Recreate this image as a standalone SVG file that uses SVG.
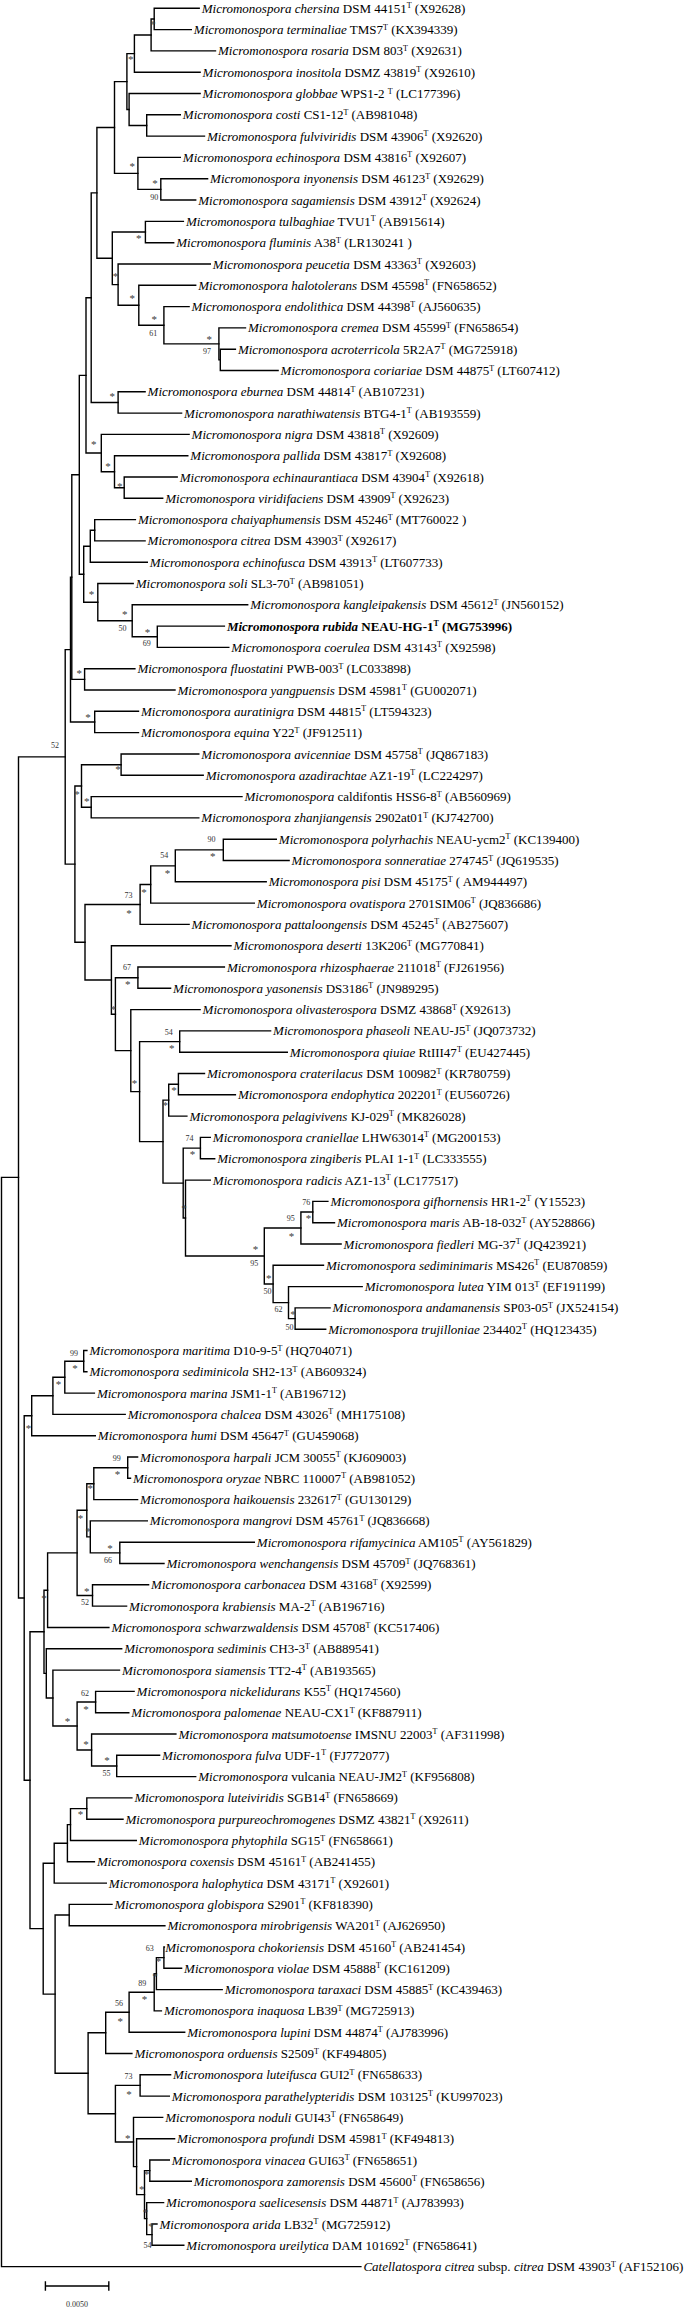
<svg xmlns="http://www.w3.org/2000/svg" width="685" height="2310" viewBox="0 0 685 2310">
<style>
text{font-family:"Liberation Serif","Times New Roman",serif;font-size:13px;fill:#000}
.i{font-style:italic}
.t{font-size:8px}
.a{font-size:11px;fill:#3a3a3a;text-anchor:middle}
.b{font-size:8px;fill:#333;text-anchor:middle}
.bold{font-weight:bold}
#connectors path{fill:none;stroke:#000;stroke-width:1.4;stroke-linecap:square}
</style>
<rect width="685" height="2310" fill="#fff"/>
<g id="connectors">
<path d="M154.2 8.3V29.6M154.2 8.3H199.2M154.2 29.6H191.3"/>
<path d="M151.1 19V50.9M151.1 19H154.2M151.1 50.9H215.5"/>
<path d="M134.4 35V72.2M134.4 35H151.1M134.4 72.2H200.1"/>
<path d="M146.7 114.8V136.1M146.7 114.8H180.3M146.7 136.1H204.5"/>
<path d="M129.1 93.5V125.5M129.1 93.5H200.1M129.1 125.5H146.7"/>
<path d="M126.9 53.6V109.5M126.9 53.6H134.4M126.9 109.5H129.1"/>
<path d="M160.8 178.7V200M160.8 178.7H207.6M160.8 200H195.7"/>
<path d="M137.9 157.4V189.4M137.9 157.4H180.3M137.9 189.4H160.8"/>
<path d="M114.5 81.6V173.4M114.5 81.6H126.9M114.5 173.4H137.9"/>
<path d="M145.4 221.4V242.7M145.4 221.4H183.4M145.4 242.7H173.7"/>
<path d="M220.3 349.2V370.5M220.3 349.2H235.4M220.3 370.5H278.1"/>
<path d="M218.9 327.9V359.9M218.9 327.9H245.5M218.9 359.9H220.3"/>
<path d="M163.9 306.6V343.9M163.9 306.6H189.1M163.9 343.9H218.9"/>
<path d="M138.8 285.3V325.2M138.8 285.3H195.7M138.8 325.2H163.9"/>
<path d="M118.1 264V305.3M118.1 264H210.3M118.1 305.3H138.8"/>
<path d="M112.3 232V284.6M112.3 232H145.4M112.3 284.6H118.1"/>
<path d="M96.9 127.5V258.3M96.9 127.5H114.5M96.9 258.3H112.3"/>
<path d="M118.1 391.8V413.1M118.1 391.8H145.1M118.1 413.1H181.6"/>
<path d="M91.2 192.9V402.5M91.2 192.9H96.9M91.2 402.5H118.1"/>
<path d="M124.2 477V498.3M124.2 477H177.2M124.2 498.3H162.7"/>
<path d="M114.5 455.7V487.7M114.5 455.7H187.8M114.5 487.7H124.2"/>
<path d="M101.3 434.4V471.7M101.3 434.4H189.1M101.3 471.7H114.5"/>
<path d="M86 297.7V453M86 297.7H91.2M86 453H101.3"/>
<path d="M94.7 519.6V540.9M94.7 519.6H135.4M94.7 540.9H145.1"/>
<path d="M90.3 530.3V562.2M90.3 530.3H94.7M90.3 562.2H147.3"/>
<path d="M157.3 626.1V647.4M157.3 626.1H224.4M157.3 647.4H228.8"/>
<path d="M132.2 604.8V636.8M132.2 604.8H247.7M132.2 636.8H157.3"/>
<path d="M97.8 583.5V620.8M97.8 583.5H133.2M97.8 620.8H132.2"/>
<path d="M83.7 546.2V602.2M83.7 546.2H90.3M83.7 602.2H97.8"/>
<path d="M79.3 375.4V574.2M79.3 375.4H86M79.3 574.2H83.7"/>
<path d="M84.6 668.7V690M84.6 668.7H134.9M84.6 690H175"/>
<path d="M94.7 711.3V732.6M94.7 711.3H138.5M94.7 732.6H138.5"/>
<path d="M71.8 474.8V679.4M71.8 474.8H79.3M71.8 679.4H84.6"/>
<path d="M70.5 577.1V722M70.5 577.1H71.8M70.5 722H94.7"/>
<path d="M121.1 754V775.3M121.1 754H198.8M121.1 775.3H203.2"/>
<path d="M91.2 796.6V817.9M91.2 796.6H242M91.2 817.9H198.8"/>
<path d="M81.5 764.7V807.3M81.5 764.7H121.1M81.5 807.3H91.2"/>
<path d="M223.3 839.2V860.5M223.3 839.2H276.3M223.3 860.5H289.1"/>
<path d="M175.3 849.9V881.8M175.3 849.9H223.3M175.3 881.8H266.2"/>
<path d="M150.7 865.9V903.1M150.7 865.9H175.3M150.7 903.1H254.3"/>
<path d="M140.1 884.5V924.4M140.1 884.5H150.7M140.1 924.4H189.1"/>
<path d="M137.9 967V988.3M137.9 967H224.4M137.9 988.3H170.6"/>
<path d="M179.7 1030.9V1052.2M179.7 1030.9H270.6M179.7 1052.2H287.3"/>
<path d="M178.4 1073.5V1094.8M178.4 1073.5H204.5M178.4 1094.8H235.4"/>
<path d="M168.7 1084.2V1116.1M168.7 1084.2H178.4M168.7 1116.1H186.9"/>
<path d="M200.4 1137.4V1158.8M200.4 1137.4H210.3M200.4 1158.8H214.7"/>
<path d="M312.8 1201.4V1222.7M312.8 1201.4H327.9M312.8 1222.7H334.5"/>
<path d="M300.9 1212V1244M300.9 1212H312.8M300.9 1244H341.1"/>
<path d="M295.1 1307.9V1329.2M295.1 1307.9H330.1M295.1 1329.2H325.7"/>
<path d="M288.5 1286.6V1318.6M288.5 1286.6H362.2M288.5 1318.6H295.1"/>
<path d="M273.1 1265.3V1302.6M273.1 1265.3H323.5M273.1 1302.6H288.5"/>
<path d="M264.3 1228V1284M264.3 1228H300.9M264.3 1284H273.1"/>
<path d="M185.5 1180.1V1256M185.5 1180.1H210.3M185.5 1256H264.3"/>
<path d="M183.2 1148.1V1218M183.2 1148.1H200.4M183.2 1218H185.5"/>
<path d="M163 1100.1V1183.1M163 1100.1H168.7M163 1183.1H183.2"/>
<path d="M139.6 1041.6V1141.6M139.6 1041.6H179.7M139.6 1141.6H163"/>
<path d="M130.8 1009.6V1091.6M130.8 1009.6H200.1M130.8 1091.6H139.6"/>
<path d="M115.4 977.7V1050.6M115.4 977.7H137.9M115.4 1050.6H130.8"/>
<path d="M111.4 945.7V1014.2M111.4 945.7H231M111.4 1014.2H115.4"/>
<path d="M85 904.5V980M85 904.5H140.1M85 980H111.4"/>
<path d="M74.9 786V942.2M74.9 786H81.5M74.9 942.2H85"/>
<path d="M65.2 649.6V864.1M65.2 649.6H70.5M65.2 864.1H74.9"/>
<path d="M83.7 1350.5V1371.8M83.7 1350.5H86.9M83.7 1371.8H86.9"/>
<path d="M64.8 1361.2V1393.1M64.8 1361.2H83.7M64.8 1393.1H94.4"/>
<path d="M52.9 1377.2V1414.4M52.9 1377.2H64.8M52.9 1414.4H125.2"/>
<path d="M31.7 1395.8V1435.7M31.7 1395.8H52.9M31.7 1435.7H95.3"/>
<path d="M127.7 1457V1478.3M127.7 1457H137.6M127.7 1478.3H130.5"/>
<path d="M93.8 1467.7V1499.6M93.8 1467.7H127.7M93.8 1499.6H137.6"/>
<path d="M119.8 1542.2V1563.5M119.8 1542.2H254.3M119.8 1563.5H164"/>
<path d="M90.3 1520.9V1552.9M90.3 1520.9H147.3M90.3 1552.9H119.8"/>
<path d="M86.8 1483.7V1536.9M86.8 1483.7H93.8M86.8 1536.9H90.3"/>
<path d="M92.5 1584.8V1606.1M92.5 1584.8H148.6M92.5 1606.1H126.6"/>
<path d="M77.1 1510.3V1595.5M77.1 1510.3H86.8M77.1 1595.5H92.5"/>
<path d="M47.6 1552.9V1627.5M47.6 1552.9H77.1M47.6 1627.5H108.9"/>
<path d="M95.6 1691.4V1712.7M95.6 1691.4H134.1M95.6 1712.7H128.8"/>
<path d="M116.7 1755.3V1776.6M116.7 1755.3H159.6M116.7 1776.6H195.7"/>
<path d="M91.6 1734V1766M91.6 1734H175.9M91.6 1766H116.7"/>
<path d="M77.1 1702V1750M77.1 1702H95.6M77.1 1750H91.6"/>
<path d="M52.9 1670.1V1726M52.9 1670.1H119.5M52.9 1726H77.1"/>
<path d="M46.3 1648.8V1698M46.3 1648.8H121.7M46.3 1698H52.9"/>
<path d="M44 1590.2V1673.4M44 1590.2H47.6M44 1673.4H46.3"/>
<path d="M86.8 1797.9V1819.2M86.8 1797.9H131.9M86.8 1819.2H123"/>
<path d="M70.5 1808.6V1840.5M70.5 1808.6H86.8M70.5 1840.5H136.3"/>
<path d="M67.4 1824.6V1861.8M67.4 1824.6H70.5M67.4 1861.8H94.4"/>
<path d="M54.2 1843.2V1883.1M54.2 1843.2H67.4M54.2 1883.1H106.3"/>
<path d="M69.2 1904.4V1925.7M69.2 1904.4H112M69.2 1925.7H164.9"/>
<path d="M163.9 1947V1968.3M163.9 1947H164.4M163.9 1968.3H181.6"/>
<path d="M156.4 1957.6V1989.6M156.4 1957.6H163.9M156.4 1989.6H222.2"/>
<path d="M154.2 1973.6V2010.9M154.2 1973.6H156.4M154.2 2010.9H161.4"/>
<path d="M129.1 1992.2V2032.2M129.1 1992.2H154.2M129.1 2032.2H184.7"/>
<path d="M105.7 2012.2V2053.5M105.7 2012.2H129.1M105.7 2053.5H131.9"/>
<path d="M140.1 2074.8V2096.1M140.1 2074.8H170.6M140.1 2096.1H169.3"/>
<path d="M149.8 2160V2181.3M149.8 2160H169.3M149.8 2181.3H191.3"/>
<path d="M152 2224V2245.3M152 2224H157M152 2245.3H183.8"/>
<path d="M146.7 2202.6V2234.6M146.7 2202.6H163.6M146.7 2234.6H152"/>
<path d="M144.5 2170.6V2218.6M144.5 2170.6H149.8M144.5 2218.6H146.7"/>
<path d="M136.6 2138.7V2194.6M136.6 2138.7H174.6M136.6 2194.6H144.5"/>
<path d="M133.5 2117.4V2166.6M133.5 2117.4H162.7M133.5 2166.6H136.6"/>
<path d="M115.4 2085.4V2142M115.4 2085.4H140.1M115.4 2142H133.5"/>
<path d="M88.1 2032.8V2113.7M88.1 2032.8H105.7M88.1 2113.7H115.4"/>
<path d="M55.1 1915V2073.2M55.1 1915H69.2M55.1 2073.2H88.1"/>
<path d="M43.2 1863.2V1994.1M43.2 1863.2H54.2M43.2 1994.1H55.1"/>
<path d="M30 1631.8V1928.6M30 1631.8H44M30 1928.6H43.2"/>
<path d="M24.2 1415.8V1780.2M24.2 1415.8H31.7M24.2 1780.2H30"/>
<path d="M18.5 756.9V1598M18.5 756.9H65.2M18.5 1598H24.2"/>
<path d="M1.5 1177.4V2266.6M1.5 1177.4H18.5M1.5 2266.6H360.9"/>
<path d="M45.4 2286H108.8M45.4 2282V2290M108.8 2282V2290"/>
</g>
<g id="support">
<text class="a" x="152.9" y="28.3">*</text><text class="a" x="130.8" y="63.3">*</text><text class="a" x="132.2" y="170">*</text><text class="a" x="155" y="186.7">*</text>
<text class="a" x="138.8" y="241.7">*</text><text class="a" x="115.4" y="280">*</text><text class="a" x="132.2" y="301.7">*</text><text class="a" x="154.2" y="323.3">*</text><text class="a" x="209.2" y="343.3">*</text>
<text class="a" x="112.3" y="400">*</text><text class="a" x="93.8" y="448.3">*</text><text class="a" x="107.9" y="470">*</text><text class="a" x="119.8" y="490">*</text>
<text class="a" x="91.6" y="598.3">*</text><text class="a" x="124.7" y="617.7">*</text><text class="a" x="147.6" y="635.7">*</text><text class="a" x="79.3" y="676.7">*</text><text class="a" x="88.1" y="721">*</text>
<text class="a" x="118.1" y="773.3">*</text><text class="a" x="77.1" y="798.3">*</text><text class="a" x="86.8" y="805">*</text><text class="a" x="212.8" y="860">*</text><text class="a" x="167.4" y="876.7">*</text><text class="a" x="144" y="895.7">*</text><text class="a" x="129.1" y="916.7">*</text>
<text class="a" x="127.7" y="988.3">*</text><text class="a" x="113.6" y="1013.3">*</text><text class="a" x="171.8" y="1051.7">*</text><text class="a" x="134.4" y="1086.7">*</text><text class="a" x="174" y="1094">*</text><text class="a" x="165.2" y="1109.3">*</text>
<text class="a" x="192.5" y="1158.3">*</text><text class="a" x="184.1" y="1211.7">*</text><text class="a" x="308.4" y="1222.3">*</text><text class="a" x="291.6" y="1240">*</text><text class="a" x="255.5" y="1253.3">*</text><text class="a" x="268.7" y="1281.7">*</text><text class="a" x="293" y="1318.3">*</text>
<text class="a" x="74.9" y="1371.7">*</text><text class="a" x="58.6" y="1388.3">*</text><text class="a" x="28.6" y="1431.7">*</text><text class="a" x="117.6" y="1478.3">*</text><text class="a" x="90.3" y="1491.7">*</text><text class="a" x="80.6" y="1521.7">*</text>
<text class="a" x="88.1" y="1535">*</text><text class="a" x="110.1" y="1551.7">*</text><text class="a" x="86.8" y="1595">*</text><text class="a" x="44" y="1602.3">*</text><text class="a" x="85.9" y="1713.3">*</text>
<text class="a" x="67.4" y="1725">*</text><text class="a" x="85.9" y="1748.3">*</text><text class="a" x="107" y="1764.3">*</text><text class="a" x="80.6" y="1818.3">*</text>
<text class="a" x="158.6" y="1965">*</text><text class="a" x="155" y="1980">*</text><text class="a" x="144.5" y="2003.3">*</text><text class="a" x="120.3" y="2025">*</text>
<text class="a" x="129.1" y="2098.3">*</text><text class="a" x="127.7" y="2141.7">*</text><text class="a" x="146.7" y="2178.3">*</text><text class="a" x="141.8" y="2193.3">*</text><text class="a" x="145.4" y="2215.7">*</text><text class="a" x="151.1" y="2230">*</text>
<text class="b" x="154.2" y="199.7">90</text><text class="b" x="153.3" y="335.7">61</text><text class="b" x="207" y="354">97</text><text class="b" x="122.5" y="631.3">50</text><text class="b" x="146.7" y="646.3">69</text><text class="b" x="55.1" y="748">52</text>
<text class="b" x="211.4" y="842.3">90</text><text class="b" x="164.3" y="858">54</text><text class="b" x="128.6" y="898">73</text><text class="b" x="126.9" y="969.7">67</text><text class="b" x="168.7" y="1034.7">54</text><text class="b" x="189.4" y="1140.7">74</text>
<text class="b" x="306.2" y="1204.7">76</text><text class="b" x="290.7" y="1220.7">95</text><text class="b" x="254.2" y="1265.7">95</text><text class="b" x="267.4" y="1293.7">50</text><text class="b" x="278.4" y="1312.3">62</text><text class="b" x="289.4" y="1329.7">50</text>
<text class="b" x="74" y="1355.7">99</text><text class="b" x="116.7" y="1461.3">99</text><text class="b" x="107.9" y="1563">66</text><text class="b" x="85" y="1604.7">52</text><text class="b" x="85" y="1695.7">62</text><text class="b" x="106.6" y="1776.3">55</text>
<text class="b" x="149.8" y="1950.7">63</text><text class="b" x="142.3" y="1985.7">89</text><text class="b" x="118.9" y="2005.7">56</text><text class="b" x="128.6" y="2078.7">73</text><text class="b" x="147.6" y="2248">54</text>
<text class="b" x="77" y="2307">0.0050</text>
</g>
<g id="n1"><text x="201.7" y="12.8"><tspan class="i">Micromonospora chersina</tspan> DSM 44151<tspan class="t" dy="-4.5">T</tspan><tspan dy="4.5"> (X92628)</tspan></text></g>
<g id="n2"><text x="193.8" y="34.1"><tspan class="i">Micromonospora terminaliae</tspan> TMS7<tspan class="t" dy="-4.5">T</tspan><tspan dy="4.5"> (KX394339)</tspan></text></g>
<g id="n3"><text x="218" y="55.4"><tspan class="i">Micromonospora rosaria</tspan> DSM 803<tspan class="t" dy="-4.5">T</tspan><tspan dy="4.5"> (X92631)</tspan></text></g>
<g id="n4"><text x="202.6" y="76.7"><tspan class="i">Micromonospora inositola</tspan> DSMZ 43819<tspan class="t" dy="-4.5">T</tspan><tspan dy="4.5"> (X92610)</tspan></text></g>
<g id="n5"><text x="202.6" y="98"><tspan class="i">Micromonospora globbae</tspan> WPS1-2 <tspan class="t" dy="-4.5">T</tspan><tspan dy="4.5"> (LC177396)</tspan></text></g>
<g id="n6"><text x="182.8" y="119.3"><tspan class="i">Micromonospora costi</tspan> CS1-12<tspan class="t" dy="-4.5">T</tspan><tspan dy="4.5"> (AB981048)</tspan></text></g>
<g id="n7"><text x="207" y="140.6"><tspan class="i">Micromonospora fulviviridis</tspan> DSM 43906<tspan class="t" dy="-4.5">T</tspan><tspan dy="4.5"> (X92620)</tspan></text></g>
<g id="n8"><text x="182.8" y="161.9"><tspan class="i">Micromonospora echinospora</tspan> DSM 43816<tspan class="t" dy="-4.5">T</tspan><tspan dy="4.5"> (X92607)</tspan></text></g>
<g id="n9"><text x="210.1" y="183.2"><tspan class="i">Micromonospora inyonensis</tspan> DSM 46123<tspan class="t" dy="-4.5">T</tspan><tspan dy="4.5"> (X92629)</tspan></text></g>
<g id="n10"><text x="198.2" y="204.5"><tspan class="i">Micromonospora sagamiensis</tspan> DSM 43912<tspan class="t" dy="-4.5">T</tspan><tspan dy="4.5"> (X92624)</tspan></text></g>
<g id="n11"><text x="185.9" y="225.9"><tspan class="i">Micromonospora tulbaghiae</tspan> TVU1<tspan class="t" dy="-4.5">T</tspan><tspan dy="4.5"> (AB915614)</tspan></text></g>
<g id="n12"><text x="176.2" y="247.2"><tspan class="i">Micromonospora fluminis</tspan> A38<tspan class="t" dy="-4.5">T</tspan><tspan dy="4.5"> (LR130241 )</tspan></text></g>
<g id="n13"><text x="212.8" y="268.5"><tspan class="i">Micromonospora peucetia</tspan> DSM 43363<tspan class="t" dy="-4.5">T</tspan><tspan dy="4.5"> (X92603)</tspan></text></g>
<g id="n14"><text x="198.2" y="289.8"><tspan class="i">Micromonospora halotolerans</tspan> DSM 45598<tspan class="t" dy="-4.5">T</tspan><tspan dy="4.5"> (FN658652)</tspan></text></g>
<g id="n15"><text x="191.6" y="311.1"><tspan class="i">Micromonospora endolithica</tspan> DSM 44398<tspan class="t" dy="-4.5">T</tspan><tspan dy="4.5"> (AJ560635)</tspan></text></g>
<g id="n16"><text x="248" y="332.4"><tspan class="i">Micromonospora cremea</tspan> DSM 45599<tspan class="t" dy="-4.5">T</tspan><tspan dy="4.5"> (FN658654)</tspan></text></g>
<g id="n17"><text x="237.9" y="353.7"><tspan class="i">Micromonospora acroterricola</tspan> 5R2A7<tspan class="t" dy="-4.5">T</tspan><tspan dy="4.5"> (MG725918)</tspan></text></g>
<g id="n18"><text x="280.6" y="375"><tspan class="i">Micromonospora coriariae</tspan> DSM 44875<tspan class="t" dy="-4.5">T</tspan><tspan dy="4.5"> (LT607412)</tspan></text></g>
<g id="n19"><text x="147.6" y="396.3"><tspan class="i">Micromonospora eburnea</tspan> DSM 44814<tspan class="t" dy="-4.5">T</tspan><tspan dy="4.5"> (AB107231)</tspan></text></g>
<g id="n20"><text x="184.1" y="417.6"><tspan class="i">Micromonospora narathiwatensis</tspan> BTG4-1<tspan class="t" dy="-4.5">T</tspan><tspan dy="4.5"> (AB193559)</tspan></text></g>
<g id="n21"><text x="191.6" y="438.9"><tspan class="i">Micromonospora nigra</tspan> DSM 43818<tspan class="t" dy="-4.5">T</tspan><tspan dy="4.5"> (X92609)</tspan></text></g>
<g id="n22"><text x="190.3" y="460.2"><tspan class="i">Micromonospora pallida</tspan> DSM 43817<tspan class="t" dy="-4.5">T</tspan><tspan dy="4.5"> (X92608)</tspan></text></g>
<g id="n23"><text x="179.7" y="481.5"><tspan class="i">Micromonospora echinaurantiaca</tspan> DSM 43904<tspan class="t" dy="-4.5">T</tspan><tspan dy="4.5"> (X92618)</tspan></text></g>
<g id="n24"><text x="165.2" y="502.8"><tspan class="i">Micromonospora viridifaciens</tspan> DSM 43909<tspan class="t" dy="-4.5">T</tspan><tspan dy="4.5"> (X92623)</tspan></text></g>
<g id="n25"><text x="137.9" y="524.1"><tspan class="i">Micromonospora chaiyaphumensis</tspan> DSM 45246<tspan class="t" dy="-4.5">T</tspan><tspan dy="4.5"> (MT760022 )</tspan></text></g>
<g id="n26"><text x="147.6" y="545.4"><tspan class="i">Micromonospora citrea</tspan> DSM 43903<tspan class="t" dy="-4.5">T</tspan><tspan dy="4.5"> (X92617)</tspan></text></g>
<g id="n27"><text x="149.8" y="566.7"><tspan class="i">Micromonospora echinofusca</tspan> DSM 43913<tspan class="t" dy="-4.5">T</tspan><tspan dy="4.5"> (LT607733)</tspan></text></g>
<g id="n28"><text x="135.7" y="588"><tspan class="i">Micromonospora soli</tspan> SL3-70<tspan class="t" dy="-4.5">T</tspan><tspan dy="4.5"> (AB981051)</tspan></text></g>
<g id="n29"><text x="250.2" y="609.3"><tspan class="i">Micromonospora kangleipakensis</tspan> DSM 45612<tspan class="t" dy="-4.5">T</tspan><tspan dy="4.5"> (JN560152)</tspan></text></g>
<g id="n30"><text class="bold" x="226.9" y="630.6"><tspan class="i">Micromonospora rubida</tspan>  NEAU-HG-1<tspan class="t" dy="-4.5">T</tspan><tspan dy="4.5"> (MG753996)</tspan></text></g>
<g id="n31"><text x="231.3" y="651.9"><tspan class="i">Micromonospora coerulea</tspan> DSM 43143<tspan class="t" dy="-4.5">T</tspan><tspan dy="4.5"> (X92598)</tspan></text></g>
<g id="n32"><text x="137.4" y="673.2"><tspan class="i">Micromonospora fluostatini</tspan> PWB-003<tspan class="t" dy="-4.5">T</tspan><tspan dy="4.5"> (LC033898)</tspan></text></g>
<g id="n33"><text x="177.5" y="694.5"><tspan class="i">Micromonospora yangpuensis</tspan> DSM 45981<tspan class="t" dy="-4.5">T</tspan><tspan dy="4.5"> (GU002071)</tspan></text></g>
<g id="n34"><text x="141" y="715.8"><tspan class="i">Micromonospora auratinigra</tspan> DSM 44815<tspan class="t" dy="-4.5">T</tspan><tspan dy="4.5"> (LT594323)</tspan></text></g>
<g id="n35"><text x="141" y="737.1"><tspan class="i">Micromonospora equina</tspan> Y22<tspan class="t" dy="-4.5">T</tspan><tspan dy="4.5"> (JF912511)</tspan></text></g>
<g id="n36"><text x="201.3" y="758.5"><tspan class="i">Micromonospora avicenniae</tspan> DSM 45758<tspan class="t" dy="-4.5">T</tspan><tspan dy="4.5"> (JQ867183)</tspan></text></g>
<g id="n37"><text x="205.7" y="779.8"><tspan class="i">Micromonospora azadirachtae</tspan> AZ1-19<tspan class="t" dy="-4.5">T</tspan><tspan dy="4.5"> (LC224297)</tspan></text></g>
<g id="n38"><text x="244.5" y="801.1"><tspan class="i">Micromonospora</tspan> caldifontis HSS6-8<tspan class="t" dy="-4.5">T</tspan><tspan dy="4.5"> (AB560969)</tspan></text></g>
<g id="n39"><text x="201.3" y="822.4"><tspan class="i">Micromonospora zhanjiangensis</tspan> 2902at01<tspan class="t" dy="-4.5">T</tspan><tspan dy="4.5"> (KJ742700)</tspan></text></g>
<g id="n40"><text x="278.8" y="843.7"><tspan class="i">Micromonospora polyrhachis</tspan> NEAU-ycm2<tspan class="t" dy="-4.5">T</tspan><tspan dy="4.5"> (KC139400)</tspan></text></g>
<g id="n41"><text x="291.6" y="865"><tspan class="i">Micromonospora sonneratiae</tspan> 274745<tspan class="t" dy="-4.5">T</tspan><tspan dy="4.5"> (JQ619535)</tspan></text></g>
<g id="n42"><text x="268.7" y="886.3"><tspan class="i">Micromonospora pisi</tspan> DSM 45175<tspan class="t" dy="-4.5">T</tspan><tspan dy="4.5"> ( AM944497)</tspan></text></g>
<g id="n43"><text x="256.8" y="907.6"><tspan class="i">Micromonospora ovatispora</tspan> 2701SIM06<tspan class="t" dy="-4.5">T</tspan><tspan dy="4.5"> (JQ836686)</tspan></text></g>
<g id="n44"><text x="191.6" y="928.9"><tspan class="i">Micromonospora pattaloongensis</tspan> DSM 45245<tspan class="t" dy="-4.5">T</tspan><tspan dy="4.5"> (AB275607)</tspan></text></g>
<g id="n45"><text x="233.5" y="950.2"><tspan class="i">Micromonospora deserti</tspan> 13K206<tspan class="t" dy="-4.5">T</tspan><tspan dy="4.5"> (MG770841)</tspan></text></g>
<g id="n46"><text x="226.9" y="971.5"><tspan class="i">Micromonospora rhizosphaerae</tspan> 211018<tspan class="t" dy="-4.5">T</tspan><tspan dy="4.5"> (FJ261956)</tspan></text></g>
<g id="n47"><text x="173.1" y="992.8"><tspan class="i">Micromonospora yasonensis</tspan> DS3186<tspan class="t" dy="-4.5">T</tspan><tspan dy="4.5"> (JN989295)</tspan></text></g>
<g id="n48"><text x="202.6" y="1014.1"><tspan class="i">Micromonospora olivasterospora</tspan> DSMZ 43868<tspan class="t" dy="-4.5">T</tspan><tspan dy="4.5"> (X92613)</tspan></text></g>
<g id="n49"><text x="273.1" y="1035.4"><tspan class="i">Micromonospora phaseoli</tspan> NEAU-J5<tspan class="t" dy="-4.5">T</tspan><tspan dy="4.5"> (JQ073732)</tspan></text></g>
<g id="n50"><text x="289.8" y="1056.7"><tspan class="i">Micromonospora qiuiae</tspan> RtIII47<tspan class="t" dy="-4.5">T</tspan><tspan dy="4.5"> (EU427445)</tspan></text></g>
<g id="n51"><text x="207" y="1078"><tspan class="i">Micromonospora craterilacus</tspan> DSM 100982<tspan class="t" dy="-4.5">T</tspan><tspan dy="4.5"> (KR780759)</tspan></text></g>
<g id="n52"><text x="237.9" y="1099.3"><tspan class="i">Micromonospora endophytica</tspan> 202201<tspan class="t" dy="-4.5">T</tspan><tspan dy="4.5"> (EU560726)</tspan></text></g>
<g id="n53"><text x="189.4" y="1120.6"><tspan class="i">Micromonospora pelagivivens</tspan> KJ-029<tspan class="t" dy="-4.5">T</tspan><tspan dy="4.5"> (MK826028)</tspan></text></g>
<g id="n54"><text x="212.8" y="1141.9"><tspan class="i">Micromonospora craniellae</tspan> LHW63014<tspan class="t" dy="-4.5">T</tspan><tspan dy="4.5"> (MG200153)</tspan></text></g>
<g id="n55"><text x="217.2" y="1163.3"><tspan class="i">Micromonospora zingiberis</tspan> PLAI 1-1<tspan class="t" dy="-4.5">T</tspan><tspan dy="4.5"> (LC333555)</tspan></text></g>
<g id="n56"><text x="212.8" y="1184.6"><tspan class="i">Micromonospora radicis</tspan> AZ1-13<tspan class="t" dy="-4.5">T</tspan><tspan dy="4.5"> (LC177517)</tspan></text></g>
<g id="n57"><text x="330.4" y="1205.9"><tspan class="i">Micromonospora gifhornensis</tspan> HR1-2<tspan class="t" dy="-4.5">T</tspan><tspan dy="4.5"> (Y15523)</tspan></text></g>
<g id="n58"><text x="337" y="1227.2"><tspan class="i">Micromonospora maris</tspan> AB-18-032<tspan class="t" dy="-4.5">T</tspan><tspan dy="4.5"> (AY528866)</tspan></text></g>
<g id="n59"><text x="343.6" y="1248.5"><tspan class="i">Micromonospora fiedleri</tspan> MG-37<tspan class="t" dy="-4.5">T</tspan><tspan dy="4.5"> (JQ423921)</tspan></text></g>
<g id="n60"><text x="326" y="1269.8"><tspan class="i">Micromonospora sediminimaris</tspan> MS426<tspan class="t" dy="-4.5">T</tspan><tspan dy="4.5"> (EU870859)</tspan></text></g>
<g id="n61"><text x="364.7" y="1291.1"><tspan class="i">Micromonospora lutea</tspan> YIM 013<tspan class="t" dy="-4.5">T</tspan><tspan dy="4.5"> (EF191199)</tspan></text></g>
<g id="n62"><text x="332.6" y="1312.4"><tspan class="i">Micromonospora andamanensis</tspan> SP03-05<tspan class="t" dy="-4.5">T</tspan><tspan dy="4.5"> (JX524154)</tspan></text></g>
<g id="n63"><text x="328.2" y="1333.7"><tspan class="i">Micromonospora trujilloniae</tspan> 234402<tspan class="t" dy="-4.5">T</tspan><tspan dy="4.5"> (HQ123435)</tspan></text></g>
<g id="n64"><text x="89.4" y="1355"><tspan class="i">Micromonospora maritima</tspan> D10-9-5<tspan class="t" dy="-4.5">T</tspan><tspan dy="4.5"> (HQ704071)</tspan></text></g>
<g id="n65"><text x="89.4" y="1376.3"><tspan class="i">Micromonospora sediminicola</tspan> SH2-13<tspan class="t" dy="-4.5">T</tspan><tspan dy="4.5"> (AB609324)</tspan></text></g>
<g id="n66"><text x="96.9" y="1397.6"><tspan class="i">Micromonospora marina</tspan> JSM1-1<tspan class="t" dy="-4.5">T</tspan><tspan dy="4.5"> (AB196712)</tspan></text></g>
<g id="n67"><text x="127.7" y="1418.9"><tspan class="i">Micromonospora chalcea</tspan> DSM 43026<tspan class="t" dy="-4.5">T</tspan><tspan dy="4.5"> (MH175108)</tspan></text></g>
<g id="n68"><text x="97.8" y="1440.2"><tspan class="i">Micromonospora humi</tspan> DSM 45647<tspan class="t" dy="-4.5">T</tspan><tspan dy="4.5"> (GU459068)</tspan></text></g>
<g id="n69"><text x="140.1" y="1461.5"><tspan class="i">Micromonospora harpali</tspan>  JCM 30055<tspan class="t" dy="-4.5">T</tspan><tspan dy="4.5"> (KJ609003)</tspan></text></g>
<g id="n70"><text x="133" y="1482.8"><tspan class="i">Micromonospora oryzae</tspan>  NBRC 110007<tspan class="t" dy="-4.5">T</tspan><tspan dy="4.5"> (AB981052)</tspan></text></g>
<g id="n71"><text x="140.1" y="1504.1"><tspan class="i">Micromonospora haikouensis</tspan> 232617<tspan class="t" dy="-4.5">T</tspan><tspan dy="4.5"> (GU130129)</tspan></text></g>
<g id="n72"><text x="149.8" y="1525.4"><tspan class="i">Micromonospora mangrovi</tspan> DSM 45761<tspan class="t" dy="-4.5">T</tspan><tspan dy="4.5"> (JQ836668)</tspan></text></g>
<g id="n73"><text x="256.8" y="1546.7"><tspan class="i">Micromonospora rifamycinica</tspan> AM105<tspan class="t" dy="-4.5">T</tspan><tspan dy="4.5"> (AY561829)</tspan></text></g>
<g id="n74"><text x="166.5" y="1568"><tspan class="i">Micromonospora wenchangensis</tspan> DSM 45709<tspan class="t" dy="-4.5">T</tspan><tspan dy="4.5"> (JQ768361)</tspan></text></g>
<g id="n75"><text x="151.1" y="1589.3"><tspan class="i">Micromonospora carbonacea</tspan> DSM 43168<tspan class="t" dy="-4.5">T</tspan><tspan dy="4.5"> (X92599)</tspan></text></g>
<g id="n76"><text x="129.1" y="1610.6"><tspan class="i">Micromonospora krabiensis</tspan> MA-2<tspan class="t" dy="-4.5">T</tspan><tspan dy="4.5"> (AB196716)</tspan></text></g>
<g id="n77"><text x="111.4" y="1632"><tspan class="i">Micromonospora schwarzwaldensis</tspan> DSM 45708<tspan class="t" dy="-4.5">T</tspan><tspan dy="4.5"> (KC517406)</tspan></text></g>
<g id="n78"><text x="124.2" y="1653.3"><tspan class="i">Micromonospora sediminis</tspan> CH3-3<tspan class="t" dy="-4.5">T</tspan><tspan dy="4.5"> (AB889541)</tspan></text></g>
<g id="n79"><text x="122" y="1674.6"><tspan class="i">Micromonospora siamensis</tspan> TT2-4<tspan class="t" dy="-4.5">T</tspan><tspan dy="4.5"> (AB193565)</tspan></text></g>
<g id="n80"><text x="136.6" y="1695.9"><tspan class="i">Micromonospora nickelidurans</tspan> K55<tspan class="t" dy="-4.5">T</tspan><tspan dy="4.5"> (HQ174560)</tspan></text></g>
<g id="n81"><text x="131.3" y="1717.2"><tspan class="i">Micromonospora palomenae</tspan> NEAU-CX1<tspan class="t" dy="-4.5">T</tspan><tspan dy="4.5"> (KF887911)</tspan></text></g>
<g id="n82"><text x="178.4" y="1738.5"><tspan class="i">Micromonospora matsumotoense</tspan> IMSNU 22003<tspan class="t" dy="-4.5">T</tspan><tspan dy="4.5"> (AF311998)</tspan></text></g>
<g id="n83"><text x="162.1" y="1759.8"><tspan class="i">Micromonospora fulva</tspan> UDF-1<tspan class="t" dy="-4.5">T</tspan><tspan dy="4.5"> (FJ772077)</tspan></text></g>
<g id="n84"><text x="198.2" y="1781.1"><tspan class="i">Micromonospora</tspan> vulcania NEAU-JM2<tspan class="t" dy="-4.5">T</tspan><tspan dy="4.5"> (KF956808)</tspan></text></g>
<g id="n85"><text x="134.4" y="1802.4"><tspan class="i">Micromonospora luteiviridis</tspan> SGB14<tspan class="t" dy="-4.5">T</tspan><tspan dy="4.5"> (FN658669)</tspan></text></g>
<g id="n86"><text x="125.5" y="1823.7"><tspan class="i">Micromonospora purpureochromogenes</tspan> DSMZ 43821<tspan class="t" dy="-4.5">T</tspan><tspan dy="4.5"> (X92611)</tspan></text></g>
<g id="n87"><text x="138.8" y="1845"><tspan class="i">Micromonospora phytophila</tspan> SG15<tspan class="t" dy="-4.5">T</tspan><tspan dy="4.5"> (FN658661)</tspan></text></g>
<g id="n88"><text x="96.9" y="1866.3"><tspan class="i">Micromonospora coxensis</tspan> DSM 45161<tspan class="t" dy="-4.5">T</tspan><tspan dy="4.5"> (AB241455)</tspan></text></g>
<g id="n89"><text x="108.8" y="1887.6"><tspan class="i">Micromonospora halophytica</tspan> DSM 43171<tspan class="t" dy="-4.5">T</tspan><tspan dy="4.5"> (X92601)</tspan></text></g>
<g id="n90"><text x="114.5" y="1908.9"><tspan class="i">Micromonospora globispora</tspan> S2901<tspan class="t" dy="-4.5">T</tspan><tspan dy="4.5"> (KF818390)</tspan></text></g>
<g id="n91"><text x="167.4" y="1930.2"><tspan class="i">Micromonospora mirobrigensis</tspan> WA201<tspan class="t" dy="-4.5">T</tspan><tspan dy="4.5"> (AJ626950)</tspan></text></g>
<g id="n92"><text x="165.2" y="1951.5"><tspan class="i">Micromonospora chokoriensis</tspan>  DSM 45160<tspan class="t" dy="-4.5">T</tspan><tspan dy="4.5"> (AB241454)</tspan></text></g>
<g id="n93"><text x="184.1" y="1972.8"><tspan class="i">Micromonospora violae</tspan> DSM 45888<tspan class="t" dy="-4.5">T</tspan><tspan dy="4.5"> (KC161209)</tspan></text></g>
<g id="n94"><text x="224.7" y="1994.1"><tspan class="i">Micromonospora taraxaci</tspan>  DSM 45885<tspan class="t" dy="-4.5">T</tspan><tspan dy="4.5"> (KC439463)</tspan></text></g>
<g id="n95"><text x="163.9" y="2015.4"><tspan class="i">Micromonospora inaquosa</tspan> LB39<tspan class="t" dy="-4.5">T</tspan><tspan dy="4.5"> (MG725913)</tspan></text></g>
<g id="n96"><text x="187.2" y="2036.7"><tspan class="i">Micromonospora lupini</tspan> DSM 44874<tspan class="t" dy="-4.5">T</tspan><tspan dy="4.5"> (AJ783996)</tspan></text></g>
<g id="n97"><text x="134.4" y="2058"><tspan class="i">Micromonospora orduensis</tspan> S2509<tspan class="t" dy="-4.5">T</tspan><tspan dy="4.5"> (KF494805)</tspan></text></g>
<g id="n98"><text x="173.1" y="2079.3"><tspan class="i">Micromonospora luteifusca</tspan> GUI2<tspan class="t" dy="-4.5">T</tspan><tspan dy="4.5"> (FN658633)</tspan></text></g>
<g id="n99"><text x="171.8" y="2100.6"><tspan class="i">Micromonospora parathelypteridis</tspan> DSM 103125<tspan class="t" dy="-4.5">T</tspan><tspan dy="4.5"> (KU997023)</tspan></text></g>
<g id="n100"><text x="165.2" y="2121.9"><tspan class="i">Micromonospora noduli</tspan> GUI43<tspan class="t" dy="-4.5">T</tspan><tspan dy="4.5"> (FN658649)</tspan></text></g>
<g id="n101"><text x="177.1" y="2143.2"><tspan class="i">Micromonospora profundi</tspan> DSM 45981<tspan class="t" dy="-4.5">T</tspan><tspan dy="4.5"> (KF494813)</tspan></text></g>
<g id="n102"><text x="171.8" y="2164.5"><tspan class="i">Micromonospora vinacea</tspan> GUI63<tspan class="t" dy="-4.5">T</tspan><tspan dy="4.5"> (FN658651)</tspan></text></g>
<g id="n103"><text x="193.8" y="2185.8"><tspan class="i">Micromonospora zamorensis</tspan> DSM 45600<tspan class="t" dy="-4.5">T</tspan><tspan dy="4.5"> (FN658656)</tspan></text></g>
<g id="n104"><text x="166.1" y="2207.1"><tspan class="i">Micromonospora saelicesensis</tspan>  DSM 44871<tspan class="t" dy="-4.5">T</tspan><tspan dy="4.5"> (AJ783993)</tspan></text></g>
<g id="n105"><text x="159.5" y="2228.5"><tspan class="i">Micromonospora arida</tspan> LB32<tspan class="t" dy="-4.5">T</tspan><tspan dy="4.5"> (MG725912)</tspan></text></g>
<g id="n106"><text x="186.3" y="2249.8"><tspan class="i">Micromonospora ureilytica</tspan> DAM 101692<tspan class="t" dy="-4.5">T</tspan><tspan dy="4.5"> (FN658641)</tspan></text></g>
<g id="n107"><text x="363.4" y="2271.1"><tspan class="i">Catellatospora citrea</tspan> subsp. <tspan class="i">citrea</tspan> DSM 43903<tspan class="t" dy="-4.5">T</tspan><tspan dy="4.5"> (AF152106)</tspan></text></g>
</svg>
